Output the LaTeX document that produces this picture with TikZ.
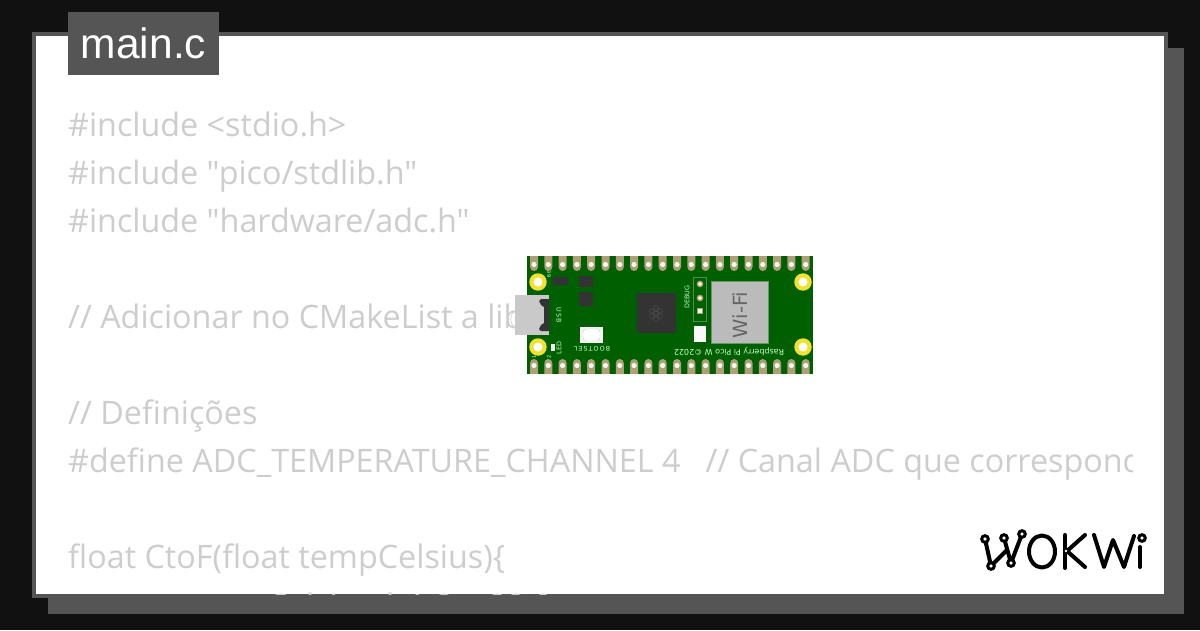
\documentclass[tikz,border=0pt]{standalone}
\usepackage{fontspec}
\setmainfont[Ligatures=TeXOff]{Open Sans}
\newfontfamily\tabfont{Liberation Sans}
\newfontfamily\pcbfont{DejaVu Sans}
\usetikzlibrary{positioning}
\definecolor{bgdark}{HTML}{111111}
\definecolor{framegray}{HTML}{555555}
\definecolor{codegray}{HTML}{CDCDCD}
\definecolor{pcbgreen}{HTML}{005F00}
\definecolor{padtan}{HTML}{AD9F78}
\definecolor{chipdark}{HTML}{333333}
\definecolor{wifigray}{HTML}{BBBBBB}
\definecolor{usbgray}{HTML}{C9C9C9}
\definecolor{padyellow}{HTML}{F2E230}
\tikzset{
	codeline/.style={anchor=base west, inner sep=0pt, text=codegray, font=\fontsize{32.3}{32.3}\selectfont},
	pcblabel/.style={inner sep=0pt, text=white!80!green, font=\pcbfont\fontsize{6.4}{6.4}\selectfont},
	pinlabel/.style={pcblabel, font=\pcbfont\fontsize{5}{5}\selectfont},
	logostroke/.style={line width=4pt, line cap=round, line join=round},
}
\begin{document}
\begin{tikzpicture}[x=1pt,y=-1pt]
	\useasboundingbox (0,0) rectangle (1200,630);
	\fill[bgdark] (0,0) rectangle (1200,630);
	\fill[framegray] (48,48) rectangle (1184,614);
	\draw[framegray,fill=white,line width=4pt] (34,34) rectangle (1166,596);

	\begin{scope}
		\clip (68,36) rectangle (1132,594);
		\node [codeline] (inc1) at (68,136) {\#include <stdio.h>};
		\node [codeline] (inc2) at (68,184) {\#include "pico/stdlib.h"};
		\node [codeline] (inc3) at (68,232) {\#include "hardware/adc.h"};
		\node [codeline] (note) at (68,328) {// Adicionar no CMakeList a lib};
		\node [codeline] (defs) at (68,424) {// Definições};
		\node [codeline] (chan) at (68,472) {\#define ADC\_TEMPERATURE\_CHANNEL 4\ \ \ // Canal ADC que corresponde};
		\node [codeline] (func) at (68,568) {float CtoF(float tempCelsius)\{};
		\node [codeline] (body) at (68,617) {\ \ return tempCelsius * 1.8 + 32.0;};
	\end{scope}

	\node [fill=framegray, text=white, inner sep=0pt,
		minimum width=151pt, minimum height=63pt,
		font=\tabfont\fontsize{42.5}{42.5}\selectfont] (tab) at (143.5,43.5) {main.c};

	% board
	\draw[usbgray!70!white,line width=0.8pt] (515,311) .. controls (509,314) and (509,324) .. (515,327);
	\fill[pcbgreen] (527,256) rectangle (813,374);
	\foreach \i in {0,...,19}{
		\fill[padtan] (530+14.3*\i,256) -- (538+14.3*\i,256) -- (538+14.3*\i,267) arc (0:180:4) -- cycle;
		\fill[white!90!padtan] (534+14.3*\i,264.5) circle (2.6);
		\fill[padtan] (530+14.3*\i,374) -- (538+14.3*\i,374) -- (538+14.3*\i,363) arc (0:-180:4) -- cycle;
		\fill[white!90!padtan] (534+14.3*\i,365.5) circle (2.6);
	}
	\foreach \mx/\my in {538/282,538/347,803/282,803/347}{
		\draw[padyellow,fill=white,line width=4.2pt] (\mx,\my) circle (6.6);
	}

	\fill[usbgray] (515,295) rectangle (549,335);
	\fill[chipdark] (549,299) -- (541,299) -- (539,301) -- (541,305) -- (544,307) -- (544,323) -- (541,325) -- (539,329) -- (541,331) -- (549,331) -- cycle;

	\fill[chipdark] (553,277) rectangle (568,285);
	\fill[chipdark] (579,276) rectangle (593,287);
	\fill[chipdark] (579,292) rectangle (593,306);
	\fill[chipdark] (637,293) rectangle (676,333);
	\foreach \cx/\cy in {652/311,656/308,660/311,652/316,656/319,660/316,656/313.5}{
		\draw[chipdark!85!white,line width=0.5pt] (\cx,\cy) circle (2.4);
	}

	\fill[white!92!gray] (580,327) rectangle (603,343);
	\fill[white,rounded corners=3pt,draw=gray!40] (583,329) rectangle (600,341);
	\fill[white!85!gray] (550.5,344) rectangle (555,351);

	\draw[pcbgreen!70!white,line width=0.8pt] (693.5,277.5) rectangle (706.5,321);
	\foreach \hy in {284,298}{
		\draw[padtan!90!orange,fill=white,line width=1.4pt] (700,\hy) circle (2.6);
	}
	\draw[padtan!90!orange,fill=white,line width=1.4pt] (697.4,308.4) rectangle (702.6,313.6);

	\fill[white!95!gray] (693.5,326) rectangle (705.5,342);
	\draw[gray!80!green,fill=wifigray,line width=0.6pt] (711.5,281) rectangle (768.5,343);

	\node [rotate=90, inner sep=0pt, text=chipdark!75!white, font=\pcbfont\fontsize{19.5}{19.5}\selectfont] (wifi) at (740,315) {Wi-Fi};
	\node [pinlabel, rotate=-90] (pin39) at (549,274) {39};
	\node [pinlabel, rotate=90] (pin1) at (534,357) {1};
	\node [pinlabel, rotate=90] (pin2) at (549,357) {2};
	\node [pcblabel, rotate=90] (led) at (559,348) {LED};
	\node [pcblabel, rotate=-90] (usb) at (559,315) {U\,S\,B};
	\node [pcblabel, rotate=180] (bootsel) at (592,349) {B\,O\,O\,T\,S\,E\,L};
	\node [pcblabel, rotate=90] (debug) at (687,297) {DEBUG};
	\node [pcblabel, rotate=180, font=\pcbfont\fontsize{8}{8}\selectfont] (picow) at (729,352) {Raspberry Pi Pico W ©2022};

	% logo
	\draw[logostroke] (985,539) -- (991,566) -- (1007,550);
	\draw[logostroke] (1004,538) -- (1011,563) -- (1022,534);
	\draw[logostroke] (1042,551.5) ellipse (13 and 16);
	\draw[logostroke] (1065,535) -- (1065,568);
	\draw[logostroke] (1085,535) -- (1067,551) -- (1085,567);
	\draw[logostroke] (1094,535) -- (1104,567) -- (1113,540) -- (1124,567) -- (1134,536);
	\draw[logostroke] (1140,547) -- (1140,567);
	\foreach \rx/\ry in {985/539,1004/538,1022/534,991/566,1011/563,1142/538}{
		\draw[line width=3pt,fill=white] (\rx,\ry) circle (3.3);
	}
	\fill[white] (1066,551) circle (1.4);
\end{tikzpicture}
\end{document}
